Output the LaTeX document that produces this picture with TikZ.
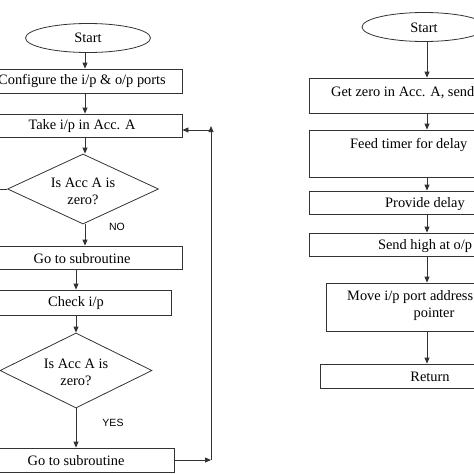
\documentclass[tikz,border=0pt]{standalone}
\usepackage{fontspec}
\setmainfont{Liberation Serif}
\newfontfamily\lblfont{Liberation Sans}
\usetikzlibrary{shapes.geometric,arrows.meta}
\definecolor{linec}{HTML}{333333}
\begin{document}
\begin{tikzpicture}[x=1pt,y=-1pt,
  box/.style={draw=linec, line width=0.8pt, rectangle, inner sep=0pt},
  term/.style={draw=linec, line width=0.8pt, ellipse, inner sep=0pt},
  dec/.style={draw=linec, line width=0.8pt, diamond, inner sep=0pt},
  txt/.style={font=\fontsize{14.4}{17}\selectfont, inner sep=0pt, align=center},
  lbl/.style={font=\lblfont\fontsize{10.5}{12}\selectfont, inner sep=0pt},
  arr/.style={draw=linec, line width=0.8pt, -{Triangle[length=6pt,width=5pt]}},
  ln/.style={draw=linec, line width=0.8pt}]
\useasboundingbox (0,0) rectangle (474,474);
\clip (0,0) rectangle (474,474);
% column references
\coordinate (colA) at (85,0);
\coordinate (colB) at (76,0);
\coordinate (colR) at (427,0);
% ---------------- left flowchart
\node[term, minimum width=125, minimum height=29] (sL) at (88,38) {};
\node[txt] (sLt) at (88,38) {Start};
\node[box, minimum width=194, minimum height=24] (conf) at (85,81) {};
\node[txt] (conft) at (82,81) {Configure the i/p \& o/p ports};
\node[box, minimum width=194, minimum height=23] (take) at (85,125.5) {};
\node[txt] (taket) at (82,126) {Take i/p in Acc. A};
\node[dec, minimum width=151, minimum height=70] (d1) at (83,189) {};
\node[txt] (d1t) at (83,191) {Is Acc A is\\zero?};
\node[lbl] (no) at (117,227) {NO};
\node[box, minimum width=194, minimum height=23] (gs1) at (85,257.5) {};
\node[txt] (gs1t) at (82,259) {Go to subroutine};
\node[box, minimum width=190, minimum height=25] (chk) at (76,302.5) {};
\node[txt] (chkt) at (76,303) {Check i/p};
\node[dec, minimum width=152, minimum height=75] (d2) at (76,370.5) {};
\node[txt] (d2t) at (76,372) {Is Acc A is\\zero?};
\node[lbl] (yes) at (113,423) {YES};
\node[box, minimum width=196, minimum height=24] (gs2) at (76,460) {};
\node[txt] (gs2t) at (76,461) {Go to subroutine};
\coordinate (lb) at (211,460);
\coordinate (lt) at (211,126);
\coordinate (lh) at (211,130);
% left arrows
\draw[arr] (sL.south -| colA) -- (conf.north -| colA);
\draw[arr] (conf.south -| colA) -- (take.north -| colA);
\draw[arr] (take.south -| colA) -- (d1.north -| colA);
\draw[arr] (d1.south -| colA) -- (gs1.north -| colA);
\draw[arr] (gs1.south -| colB) -- (chk.north -| colB);
\draw[arr] (chk.south -| colB) -- (d2.north -| colB);
\draw[arr] (d2.south -| colB) -- (gs2.north -| colB);
\draw[ln] (d1.west) -- ++(-12,0);
\draw[arr] (gs2.east) -- (lb);
\draw[arr] (lb) -- (lt);
\draw[arr] (lh) -- (take.east |- lh);
% ---------------- right flowchart
\node[term, minimum width=124, minimum height=29] (sR) at (424,27) {};
\node[txt] (sRt) at (424,28) {Start};
\node[box, minimum width=236, minimum height=35] (gz) at (427,95.5) {};
\node[txt, anchor=west] (gzt) at (331,93) {Get zero in Acc. A, send};
\node[box, minimum width=236, minimum height=47] (feed) at (427,153.5) {};
\node[txt, anchor=west] (feedt) at (350,145) {Feed timer for delay};
\node[box, minimum width=236, minimum height=23] (prov) at (427,202.5) {};
\node[txt] (provt) at (425,204) {Provide delay};
\node[box, minimum width=236, minimum height=23] (send) at (427,244.5) {};
\node[txt] (sendt) at (425,246) {Send high at o/p};
\node[box, minimum width=202, minimum height=48] (mv) at (427,307) {};
\node[txt, anchor=west] (mvt1) at (347,297) {Move i/p port address};
\node[txt] (mvt2) at (434,314) {pointer};
\node[box, minimum width=214, minimum height=24] (ret) at (427,376) {};
\node[txt] (rett) at (430,377) {Return};
% right arrows
\draw[arr] (sR.south -| colR) -- (gz.north -| colR);
\draw[arr] (gz.south -| colR) -- (feed.north -| colR);
\draw[arr] (feed.south -| colR) -- (prov.north -| colR);
\draw[arr] (prov.south -| colR) -- (send.north -| colR);
\draw[arr] (send.south -| colR) -- (mv.north -| colR);
\draw[arr] (mv.south -| colR) -- (ret.north -| colR);
\end{tikzpicture}
\end{document}
